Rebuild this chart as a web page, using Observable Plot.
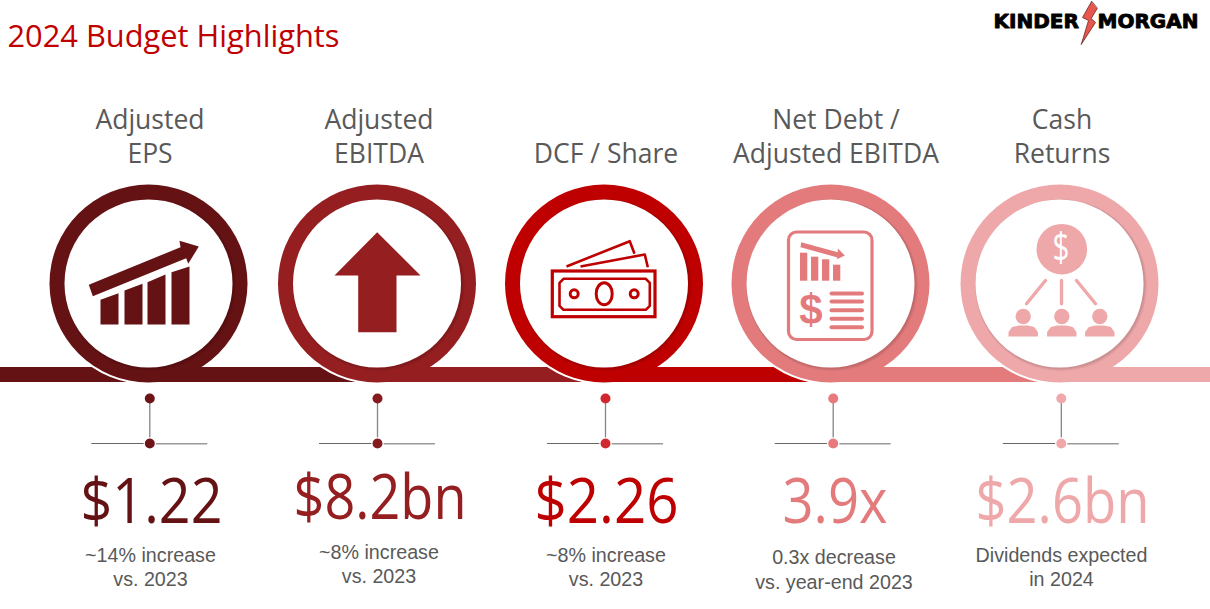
<!DOCTYPE html>
<html>
<head>
<meta charset="utf-8">
<script src="https://cdn.jsdelivr.net/npm/d3@7"></script>
<script src="https://cdn.jsdelivr.net/npm/@observablehq/plot@0.6"></script>
<style>html,body{margin:0;padding:0;background:#fff}svg{display:block}</style>
</head>
<body>
<div id="chart"></div>
<script>
const title = "2024 Budget Highlights";
const headlineTop = ["Adjusted", "Adjusted", "", "Net Debt /", "Cash"];
const headlineBottom = ["EPS", "EBITDA", "DCF / Share", "Adjusted EBITDA", "Returns"];
const values = ["$1.22", "$8.2bn", "$2.26", "3.9x", "$2.6bn"];
const noteTop = ["~14% increase", "~8% increase", "~8% increase", "0.3x decrease", "Dividends expected"];
const noteBottom = ["vs. 2023", "vs. 2023", "vs. 2023", "vs. year-end 2023", "in 2024"];
const colors = ["#641214", "#951e20", "#bf0000", "#e37b7d", "#efa8aa"];
const dotColors = ["#6e1317", "#851a1f", "#d0282e", "#e8797c", "#f0a8ab"];
const ringX = [148, 376.5, 603.5, 830, 1059];
const stemX = [149.3, 377, 605, 832.7, 1060.8];
const headX = [149.5, 378.5, 605.5, 835.5, 1061.5];
const valueX = [151, 379.5, 606, 834.5, 1062];
const valueWidth = [142, 173, 144, 105, 174];
const noteX = [150, 378.5, 605.5, 833.5, 1061];
const valueBase = [522, 518, 522, 522, 522];
const noteBase = [[561.5, 585.5], [558.5, 582.5], [561.5, 585.5], [563.5, 588.5], [561.5, 585.5]];

const pt = {x: d => d[0], y: d => d[1]};
const fillPoly = (pts, fill, extra = {}) => Plot.line(pts, {...pt, fill, stroke: "none", curve: "linear-closed", ...extra});
const strokeLine = (pts, stroke, strokeWidth, extra = {}) => Plot.line(pts, {...pt, stroke, strokeWidth, ...extra});
const txt = (s, x, y, o) => Plot.text([s], {x: () => x, y: () => y, text: d => d, lineAnchor: "bottom", ...o});
const disc = (x, y, r, fill, extra = {}) => Plot.dot([0], {x: () => x, y: () => y, r, fill, stroke: "none", ...extra});
const box = (x1, x2, y1, y2, fill, extra = {}) => Plot.rect([0], {x1: () => x1, x2: () => x2, y1: () => y1, y2: () => y2, fill, ...extra});
const squeeze = (w) => (index, scales, vals, dims, ctx, next) => {
  const g = next(index, scales, vals, dims, ctx);
  d3.select(g).selectAll("text").attr("textLength", w).attr("lengthAdjust", "spacingAndGlyphs");
  return g;
};

const SANS = "'Open Sans'";
const ARIAL = "'Liberation Sans'";

// Base ribbon with rings
const ribbon = [];
ribbon.push(box(0, ringX[0], 367, 382, colors[0]));
ringX.forEach((cx, i) => {
  const next = i < ringX.length - 1 ? ringX[i + 1] : 1210;
  ribbon.push(disc(cx, 283, 101, "#fff"));
  ribbon.push(disc(cx, 283, 99, colors[i]));
  ribbon.push(box(cx, next, 367, 382, colors[i]));
  ribbon.push(disc(cx + 1.5, 284.5, 86, "#000", {fillOpacity: 0.06}));
  ribbon.push(disc(cx + 1, 284, 85, "#000", {fillOpacity: 0.08}));
  ribbon.push(disc(cx, 283, 84, "#fff"));
});

// Connectors
const connectors = stemX.flatMap((x, i) => [
  strokeLine([[x, 398], [x, 443]], "#858585", 1.3),
  strokeLine([[x - 58, 443], [x, 443]], "#666", 1.2),
  strokeLine([[x, 443.3], [x + 57, 443.3]], "#999", 1.4),
  disc(x, 398, 5, dotColors[i]),
  disc(x, 443, 5.6, dotColors[i], {stroke: "#fff", strokeWidth: 1.2})
]);

// Text
const texts = [
  txt(title, 7, 46.5, {fontFamily: SANS, fontSize: 30.8, fill: "#c00000", textAnchor: "start"}),
  ...headX.flatMap((x, i) => [
    headlineTop[i] ? txt(headlineTop[i], x, 128, {fontFamily: SANS, fontSize: 26.5, fill: "#595959"}) : null,
    txt(headlineBottom[i], x, 162, {fontFamily: SANS, fontSize: 26.5, fill: "#595959"}),
    txt(values[i], valueX[i], valueBase[i], {fontFamily: SANS, fontSize: 63, fill: colors[i], render: squeeze(valueWidth[i])}),
    txt(noteTop[i], noteX[i], noteBase[i][0], {fontFamily: ARIAL, fontSize: 19.7, fill: "#595959"}),
    txt(noteBottom[i], noteX[i], noteBase[i][1], {fontFamily: ARIAL, fontSize: 19.7, fill: "#595959"})
  ]).filter(Boolean)
];

// Logo
const logo = [
  txt("KINDER", 993, 27.3, {fontFamily: "'DejaVu Sans'", fontWeight: 700, fontSize: 20, fill: "#000", textAnchor: "start", stroke: "#000", strokeWidth: 0.9}),
  txt("MORGAN", 1198, 27.3, {fontFamily: "'DejaVu Sans'", fontWeight: 700, fontSize: 20, fill: "#000", textAnchor: "end", stroke: "#000", strokeWidth: 0.9}),
  fillPoly([[1091, 1], [1082, 17], [1088, 20], [1080.7, 44], [1095, 22], [1090.7, 18], [1096.7, 8]], "#e8574d", {stroke: "#4a1a18", strokeWidth: 0.7})
];

// Icon 1: rising bars
const ic1 = [
  fillPoly([[88.3, 284.3], [180, 246.7], [179, 240.3], [198.3, 246], [187.7, 263.3], [185.7, 257.7], [92.3, 295.7]], colors[0]),
  fillPoly([[100, 324], [100, 299.3], [118, 292.7], [118, 324]], colors[0]),
  fillPoly([[124, 324], [124, 290], [142, 283.3], [142, 324]], colors[0]),
  fillPoly([[147, 324], [147, 281.7], [165, 274], [165, 324]], colors[0]),
  fillPoly([[171, 324], [171, 271.7], [189, 266], [189, 324]], colors[0])
];

// Icon 2: up arrow
const ic2 = [
  fillPoly([[376.7, 231.7], [420, 275], [396, 275], [396, 331.7], [357.7, 331.7], [357.7, 275], [334, 275]], colors[1])
];

// Icon 3: banknotes
const c3 = colors[2];
const ic3 = [
  box(552.3, 655, 271, 316.7, "none", {stroke: c3, strokeWidth: 3.2}),
  strokeLine([[563, 278.3], [645.3, 278.3], [649.3, 282.3], [649.3, 305.3], [645.3, 309.3], [563, 309.3], [559, 305.3], [559, 282.3]], c3, 2.6, {curve: "linear-closed"}),
  disc(573.7, 293.3, 4, "none", {stroke: c3, strokeWidth: 3}),
  disc(633.7, 293.3, 4, "none", {stroke: c3, strokeWidth: 3}),
  strokeLine([[603.7, 282.3], [609.4, 285.5], [611.7, 293.3], [609.4, 301.1], [603.7, 304.3], [598, 301.1], [595.7, 293.3], [598, 285.5]], c3, 3, {curve: "catmull-rom-closed"}),
  strokeLine([[566, 266], [629.3, 240.7], [634, 253.3]], c3, 2.6, {strokeLinecap: "butt"}),
  strokeLine([[580, 266], [644.3, 254], [647.3, 266.7]], c3, 2.6, {strokeLinecap: "butt"})
];

// Icon 4: report
const c4 = colors[3];
const ic4 = [
  box(788.5, 872, 232, 339.5, "none", {stroke: c4, strokeWidth: 3.2, rx: 8}),
  box(800, 807.3, 252.7, 280.7, c4),
  box(811, 818.3, 256.7, 280.7, c4),
  box(822, 829.3, 259.3, 280.7, c4),
  box(833, 840.3, 264.7, 280.7, c4),
  fillPoly([[800.7, 241.7], [837.3, 251.7], [837.3, 248], [844.3, 255], [836, 259], [837, 257], [800, 246.7]], c4),
  txt("$", 810.5, 323.5, {fontFamily: ARIAL, fontWeight: 700, fontSize: 42, fill: c4}),
  ...[293, 301, 309.7, 318.3, 326.7].map(y => strokeLine([[831, y], [861.5, y]], c4, 4))
];

// Icon 5: dividends to people
const c5 = colors[4];
const ic5 = [
  disc(1061.3, 248.7, 25.3, c5),
  txt("$", 1060.5, 260.5, {fontFamily: SANS, fontSize: 41, fill: "#fff", render: squeeze(17)}),
  strokeLine([[1045, 280], [1026, 303.3]], c5, 3.4),
  strokeLine([[1061, 280], [1061, 303.3]], c5, 3.4),
  strokeLine([[1076, 280], [1095, 303.3]], c5, 3.4),
  ...[1022.7, 1061.3, 1099.3].flatMap(x => [
    disc(x, 316, 7.7, c5),
    fillPoly([[x - 14.7, 336], [x - 14.7, 331.5], [x - 11, 326.5], [x - 4.5, 325], [x + 4.5, 325], [x + 11, 326.5], [x + 14.7, 331.5], [x + 14.7, 336]], c5)
  ])
];

const chart = Plot.plot({
  width: 1210,
  height: 609,
  margin: 0,
  x: {domain: [0, 1210], range: [0, 1210], axis: null},
  y: {domain: [0, 609], range: [0, 609], axis: null},
  style: {background: "#fff"},
  marks: [...ribbon, ...connectors, ...ic1, ...ic2, ...ic3, ...ic4, ...ic5, ...texts, ...logo]
});
document.getElementById("chart").append(chart);
</script>
</body>
</html>
